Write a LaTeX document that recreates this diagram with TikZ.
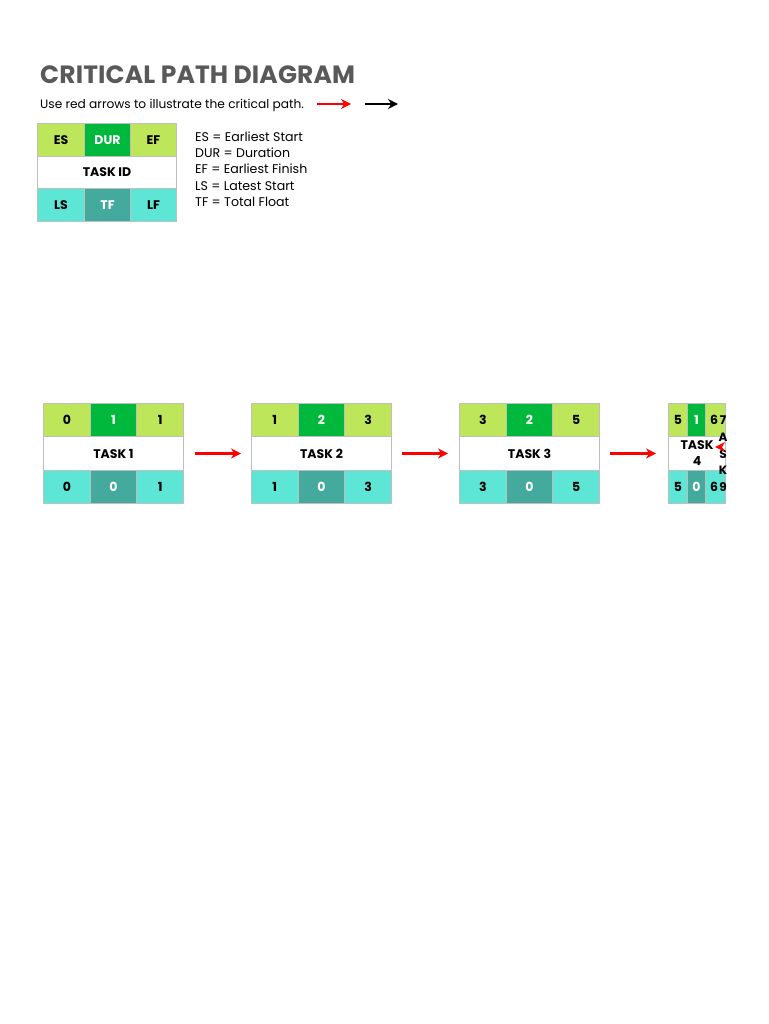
\documentclass[tikz,border=0pt]{standalone}
\usepackage{fontspec}
\setmainfont{Poppins}
\usetikzlibrary{arrows.meta}
\definecolor{lgreen}{HTML}{BEE65A}
\definecolor{dgreen}{HTML}{00B93C}
\definecolor{lcyan}{HTML}{5DE6D5}
\definecolor{teal}{HTML}{45AA9E}
\definecolor{cellborder}{HTML}{BFBFBF}
\definecolor{titlegray}{HTML}{595959}
\definecolor{cpred}{HTML}{FF0000}
\tikzset{
  cell/.style={draw=cellborder, line width=1pt, anchor=north west, inner sep=0pt,
    minimum width=46.67pt, minimum height=33pt, font=\fontsize{12.5}{13}\selectfont\bfseries, text=black},
  esc/.style={cell, fill=lgreen},
  durc/.style={cell, fill=dgreen, text=white},
  lsc/.style={cell, fill=lcyan},
  tfc/.style={cell, fill=teal, text=white},
  idc/.style={cell, fill=white, minimum width=140pt, minimum height=34pt},
  legtext/.style={anchor=west, inner sep=0pt, font=\fontsize{12.6}{13}\selectfont},
  redarrow/.style={draw=cpred, line width=2.6pt, -{Stealth[length=10pt,width=10pt]}},
  blackarrow/.style={draw=black, line width=2.6pt, -{Stealth[length=10pt,width=10pt]}},
}
\newcommand{\cpmbox}[9]{%
  \node[esc]  (#1es)  at (#2,403) {#3};
  \node[durc] (#1dur) at (#2+46.67,403) {#4};
  \node[esc]  (#1ef)  at (#2+93.33,403) {#5};
  \node[idc]  (#1id)  at (#2,436) {#6};
  \node[lsc]  (#1ls)  at (#2,470) {#7};
  \node[tfc]  (#1tf)  at (#2+46.67,470) {#8};
  \node[lsc]  (#1lf)  at (#2+93.33,470) {#9};
}
\begin{document}
\begin{tikzpicture}[x=1pt,y=-1pt]
\useasboundingbox[fill=white] (0,0) rectangle (768,1024);
% title
\node[anchor=base west, inner sep=0pt, text=titlegray, font=\fontsize{25}{26}\selectfont\bfseries\addfontfeatures{LetterSpace=0.5}] (title) at (40,84) {CRITICAL PATH DIAGRAM};
\node[anchor=base west, inner sep=0pt, font=\fontsize{12.2}{13}\selectfont] (sub) at (40,109) {Use red arrows to illustrate the critical path.};
\coordinate (ra1) at (317,104); \coordinate (ra2) at (351,104);
\coordinate (ba1) at (365,104); \coordinate (ba2) at (398,104);
\draw[redarrow] (ra1) -- (ra2);
\draw[blackarrow] (ba1) -- (ba2);
% legend box
\node[esc, minimum width=47pt] (les) at (37,123) {ES};
\node[durc, minimum width=46pt] (ldur) at (84,123) {DUR};
\node[esc, minimum width=46pt] (lef) at (130,123) {EF};
\node[idc, minimum width=139pt, minimum height=32pt] (lid) at (37,156) {TASK ID};
\node[lsc, minimum width=47pt] (lls) at (37,188) {LS};
\node[tfc, minimum width=46pt] (ltf) at (84,188) {TF};
\node[lsc, minimum width=46pt] (llf) at (130,188) {LF};
% legend text
\node[legtext] (t1) at (195,137) {ES = Earliest Start};
\node[legtext] (t2) at (195,153) {DUR = Duration};
\node[legtext] (t3) at (195,169) {EF = Earliest Finish};
\node[legtext] (t4) at (195,186) {LS = Latest Start};
\node[legtext] (t5) at (195,202) {TF = Total Float};
% tasks
\cpmbox{a}{43}{0}{1}{1}{TASK 1}{0}{0}{1}
\cpmbox{b}{251}{1}{2}{3}{TASK 2}{1}{0}{3}
\cpmbox{c}{459}{3}{2}{5}{TASK 3}{3}{0}{5}
% task 4 (clipped)
\node[esc, minimum width=19pt] (des) at (668,403) {5};
\node[durc, minimum width=18pt] (ddur) at (687,403) {1};
\node[esc, minimum width=20pt] (def) at (705,403) {};
\node[idc, minimum width=57pt, align=center, font=\fontsize{12.5}{16}\selectfont\bfseries] (did) at (668,436) {TASK\\4};
\node[lsc, minimum width=19pt] (dls) at (668,470) {5};
\node[tfc, minimum width=18pt] (dtf) at (687,470) {0};
\node[lsc, minimum width=20pt] (dlf) at (705,470) {};
\node[font=\fontsize{12.5}{13}\selectfont\bfseries, inner sep=0pt] (d6a) at (714,420) {6};
\node[font=\fontsize{12.5}{13}\selectfont\bfseries, inner sep=0pt] (d6b) at (714,487) {6};
\foreach \ch/\yy [count=\i] in {7/420,A/437,S/454,K/470,9/487}
  \node[font=\fontsize{12}{12}\selectfont\bfseries, inner sep=0pt] (v\i) at (723,\yy) {\ch};
\coordinate (dtip) at (715,447);
\fill[cpred] (dtip) -- ++(10,-5) -- ++(-3,5) -- ++(3,5) -- cycle;
% arrows
\draw[redarrow] ([xshift=11pt]aid.east) -- ([xshift=-10pt]bid.west);
\draw[redarrow] ([xshift=10pt]bid.east) -- ([xshift=-11pt]cid.west);
\draw[redarrow] ([xshift=10pt]cid.east) -- ([xshift=-12pt]did.west);
\end{tikzpicture}
\end{document}
